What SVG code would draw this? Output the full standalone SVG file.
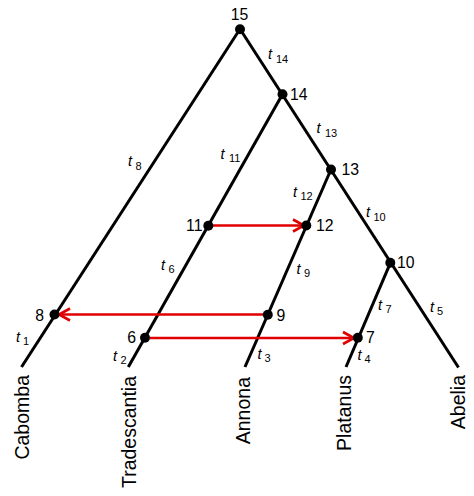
<svg xmlns="http://www.w3.org/2000/svg" width="474" height="496" viewBox="0 0 474 496">
<style>
.br{stroke:#000;stroke-width:3;fill:none;stroke-linecap:butt}
.hgt{stroke:#e00000;stroke-width:2.6;fill:none}
.dot{fill:#000}
.num{font-family:"Liberation Sans",Arial,sans-serif;font-size:15.8px;fill:#000}
.t{font-family:"Liberation Sans",Arial,sans-serif;font-size:14.5px;font-style:italic;fill:#000}
.s{font-size:11px;font-style:normal}
.leaf{font-family:"Liberation Sans",Arial,sans-serif;font-size:19.5px;fill:#000;text-anchor:end}
</style>
<defs>
<marker id="ah" markerUnits="userSpaceOnUse" markerWidth="14" markerHeight="16" refX="12" refY="7" orient="auto" overflow="visible">
<path d="M1,1 L12,7 L1,13" stroke="#e00000" stroke-width="2.6" fill="none"/>
</marker>
</defs>
<rect width="474" height="496" fill="#fff"/>
<g id="connectors">
<line class="br" x1="240" y1="29" x2="21.5" y2="367"/>
<line class="br" x1="240" y1="29" x2="458.5" y2="367.5"/>
<line class="br" x1="282.5" y1="94.3" x2="128.3" y2="367"/>
<line class="br" x1="331" y1="169.5" x2="245" y2="367"/>
<line class="br" x1="390.5" y1="262.7" x2="346" y2="367"/>
<line class="hgt" x1="213" y1="225.5" x2="304" y2="225.5" marker-end="url(#ah)"/>
<line class="hgt" x1="263" y1="314.5" x2="59" y2="314.5" marker-end="url(#ah)"/>
<line class="hgt" x1="150" y1="338" x2="354" y2="338" marker-end="url(#ah)"/>
</g>
<g id="branch-labels">
<text class="t" x="268" y="59">t<tspan class="s" x="276" y="63">14</tspan></text>
<text class="t" x="316.5" y="133">t<tspan class="s" x="325" y="136.5">13</tspan></text>
<text class="t" x="128" y="166">t<tspan class="s" x="135.5" y="170">8</tspan></text>
<text class="t" x="220.5" y="158.5">t<tspan class="s" x="229" y="162">11</tspan></text>
<text class="t" x="293" y="197">t<tspan class="s" x="300.5" y="200">12</tspan></text>
<text class="t" x="366" y="217">t<tspan class="s" x="373.5" y="220.5">10</tspan></text>
<text class="t" x="161" y="270">t<tspan class="s" x="168.5" y="273">6</tspan></text>
<text class="t" x="296.5" y="273.5">t<tspan class="s" x="304" y="277">9</tspan></text>
<text class="t" x="378" y="310">t<tspan class="s" x="385.5" y="313">7</tspan></text>
<text class="t" x="430" y="312">t<tspan class="s" x="437" y="315">5</tspan></text>
<text class="t" x="16" y="342">t<tspan class="s" x="23" y="345">1</tspan></text>
<text class="t" x="113" y="361">t<tspan class="s" x="120.5" y="364">2</tspan></text>
<text class="t" x="257.5" y="358.5">t<tspan class="s" x="264.5" y="361.5">3</tspan></text>
<text class="t" x="357.5" y="360">t<tspan class="s" x="364.5" y="363">4</tspan></text>
</g>
<g id="n15"><circle class="dot" cx="240" cy="29.3" r="5"/><text class="num" x="239.5" y="19.5" text-anchor="middle">15</text></g>
<g id="n14"><circle class="dot" cx="282.5" cy="94.3" r="5"/><text class="num" x="290" y="99.5">14</text></g>
<g id="n13"><circle class="dot" cx="331" cy="169.5" r="5"/><text class="num" x="341.5" y="175">13</text></g>
<g id="n12"><circle class="dot" cx="306.3" cy="225.5" r="5"/><text class="num" x="316" y="230.5">12</text></g>
<g id="n11"><circle class="dot" cx="208.3" cy="225.8" r="5"/><text class="num" x="202.5" y="231" text-anchor="end">11</text></g>
<g id="n10"><circle class="dot" cx="390.3" cy="262.7" r="5"/><text class="num" x="397" y="268">10</text></g>
<g id="n9"><circle class="dot" cx="267.8" cy="314.8" r="5"/><text class="num" x="276.5" y="320.5">9</text></g>
<g id="n8"><circle class="dot" cx="54.5" cy="314.5" r="5"/><text class="num" x="44" y="320.5" text-anchor="end">8</text></g>
<g id="n7"><circle class="dot" cx="357.8" cy="337.8" r="5"/><text class="num" x="366" y="343">7</text></g>
<g id="n6"><circle class="dot" cx="145" cy="337.8" r="5"/><text class="num" x="136" y="343" text-anchor="end">6</text></g>
<g id="leaf-cabomba"><text class="leaf" transform="translate(29,375) rotate(-90)">Cabomba</text></g>
<g id="leaf-tradescantia"><text class="leaf" transform="translate(136,376) rotate(-90)">Tradescantia</text></g>
<g id="leaf-annona"><text class="leaf" transform="translate(250,377) rotate(-90)">Annona</text></g>
<g id="leaf-platanus"><text class="leaf" transform="translate(351,375) rotate(-90)">Platanus</text></g>
<g id="leaf-abelia"><text class="leaf" transform="translate(464.5,375) rotate(-90)">Abelia</text></g>
</svg>
